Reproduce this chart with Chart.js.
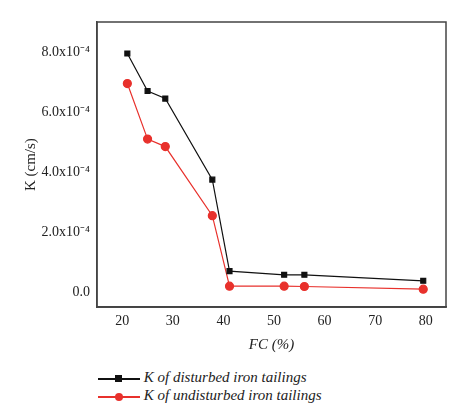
<!DOCTYPE html>
<html><head><script src="https://cdn.jsdelivr.net/npm/chart.js"></script>
<style>body{margin:0;background:#fff;font-family:"Liberation Serif",serif}
#wrap{position:absolute;left:0;top:0;width:474px;height:358px}
.leg{position:absolute;left:98px;font-style:italic;font-size:15px;color:#222}
.leg span{display:inline-block;vertical-align:middle}
</style></head><body>
<div id="wrap"><canvas id="c"></canvas></div>
<div class="leg" style="top:369px"><span style="width:42px;height:12px;position:relative"><span style="position:absolute;left:0;top:5px;width:42px;height:2px;background:#111"></span><span style="position:absolute;left:17px;top:2px;width:7px;height:7px;background:#111"></span></span> K of disturbed iron tailings</div>
<div class="leg" style="top:387px"><span style="width:42px;height:12px;position:relative"><span style="position:absolute;left:0;top:5px;width:42px;height:2px;background:#e8312c"></span><span style="position:absolute;left:17px;top:2px;width:8px;height:8px;border-radius:50%;background:#e8312c"></span></span> K of undisturbed iron tailings</div>
<script>
const fc=[21,25,28.5,37.8,41.2,52,56,79.5];
const kDisturbed=[7.95e-4,6.7e-4,6.45e-4,3.75e-4,0.7e-4,0.58e-4,0.58e-4,0.38e-4];
const kUndisturbed=[6.95e-4,5.1e-4,4.85e-4,2.55e-4,0.2e-4,0.2e-4,0.19e-4,0.1e-4];
const yTickLabels={0:"0.0",2:"2.0x10⁻⁴",4:"4.0x10⁻⁴",6:"6.0x10⁻⁴",8:"8.0x10⁻⁴"};
const font={family:"Liberation Serif",size:14};
new Chart(document.getElementById('c'),{type:'scatter',
data:{datasets:[
{data:fc.map((x,i)=>({x,y:kDisturbed[i]})),showLine:true,borderColor:'#111',backgroundColor:'#111',borderWidth:1.2,pointStyle:'rect',pointRadius:3.5},
{data:fc.map((x,i)=>({x,y:kUndisturbed[i]})),showLine:true,borderColor:'#e8312c',backgroundColor:'#e8312c',borderWidth:1.2,pointStyle:'circle',pointRadius:4}]},
options:{responsive:true,maintainAspectRatio:false,animation:false,
layout:{padding:{top:22,right:28,left:18,bottom:0}},
plugins:{legend:{display:false},tooltip:{enabled:false}},
scales:{
x:{min:15,max:84,grid:{display:false,drawTicks:false},border:{color:'#444',width:1.5},
 afterBuildTicks:a=>{a.ticks=[20,30,40,50,60,70,80].map(v=>({value:v}));},
 ticks:{font,color:'#222',padding:6},
 title:{display:true,text:'FC (%)',font:{family:"Liberation Serif",size:15,style:'italic'},color:'#222',padding:{top:0}}},
y:{min:-0.5e-4,max:9.0e-4,grid:{display:false,drawTicks:false},border:{color:'#444',width:1.5},
 afterFit:a=>{a.width=79;},
 afterBuildTicks:a=>{a.ticks=[0,2e-4,4e-4,6e-4,8e-4].map(v=>({value:v}));},
 ticks:{font,color:'#222',padding:7,callback:v=>yTickLabels[Math.round(v*1e4)]},
 title:{display:true,text:'K (cm/s)',font:{family:"Liberation Serif",size:15},color:'#222',padding:{bottom:0}}}
}},
plugins:[{id:'frame',afterDraw(c){const a=c.chartArea,x=c.ctx;x.save();x.strokeStyle='#444';x.lineWidth=1.5;x.strokeRect(a.left,a.top,a.right-a.left,a.bottom-a.top);x.restore();}}]
});
</script></body></html>
